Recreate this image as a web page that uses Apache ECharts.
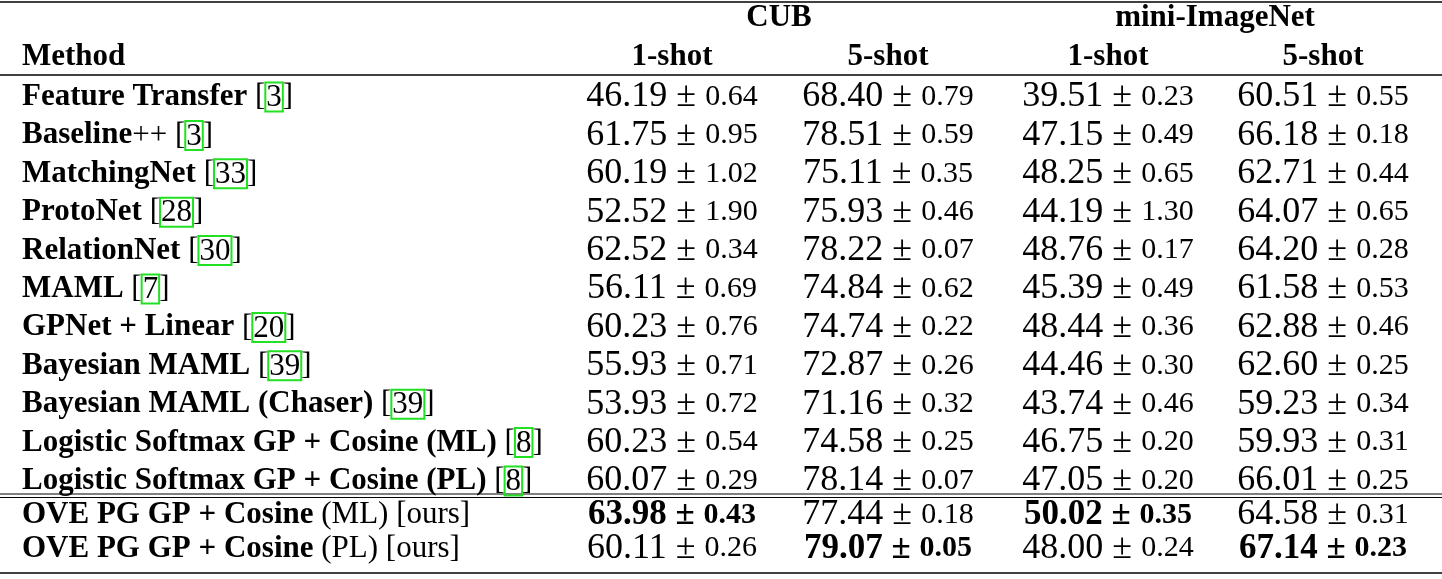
<!DOCTYPE html>
<html>
<head>
<meta charset="utf-8">
<script src="https://cdn.jsdelivr.net/npm/echarts@6/dist/echarts.min.js"></script>
<style>html,body{margin:0;padding:0;background:#fff}#chart{width:1442px;height:579px}</style>
</head>
<body>
<div id="chart"></div>
<script>
var groups = ['CUB', 'mini-ImageNet'];
var shots = ['1-shot', '5-shot', '1-shot', '5-shot'];
var methods = ['Feature Transfer', 'Baseline++', 'MatchingNet', 'ProtoNet', 'RelationNet', 'MAML',
  'GPNet + Linear', 'Bayesian MAML', 'Bayesian MAML (Chaser)', 'Logistic Softmax GP + Cosine (ML)',
  'Logistic Softmax GP + Cosine (PL)', 'OVE PG GP + Cosine', 'OVE PG GP + Cosine'];
var suffix = ['', '', '', '', '', '', '', '', '', '', '', ' (ML)', ' (PL)'];
var cites = ['3', '3', '33', '28', '30', '7', '20', '39', '39', '8', '8', 'ours', 'ours'];
var cub1 = [46.19, 61.75, 60.19, 52.52, 62.52, 56.11, 60.23, 55.93, 53.93, 60.23, 60.07, 63.98, 60.11];
var cub1sd = [0.64, 0.95, 1.02, 1.90, 0.34, 0.69, 0.76, 0.71, 0.72, 0.54, 0.29, 0.43, 0.26];
var cub5 = [68.40, 78.51, 75.11, 75.93, 78.22, 74.84, 74.74, 72.87, 71.16, 74.58, 78.14, 77.44, 79.07];
var cub5sd = [0.79, 0.59, 0.35, 0.46, 0.07, 0.62, 0.22, 0.26, 0.32, 0.25, 0.07, 0.18, 0.05];
var mini1 = [39.51, 47.15, 48.25, 44.19, 48.76, 45.39, 48.44, 44.46, 43.74, 46.75, 47.05, 50.02, 48.00];
var mini1sd = [0.23, 0.49, 0.65, 1.30, 0.17, 0.49, 0.36, 0.30, 0.46, 0.20, 0.20, 0.35, 0.24];
var mini5 = [60.51, 66.18, 62.71, 64.07, 64.20, 61.58, 62.88, 62.60, 59.23, 59.93, 66.01, 64.58, 67.14];
var mini5sd = [0.55, 0.18, 0.44, 0.65, 0.28, 0.53, 0.46, 0.25, 0.34, 0.31, 0.25, 0.31, 0.23];
var bestRow = [11, 12, 11, 12];

var cols = [[cub1, cub1sd], [cub5, cub5sd], [mini1, mini1sd], [mini5, mini5sd]];
var colX = [672, 888, 1108, 1323];
var groupX = [779, 1215];
var font = '"Liberation Serif", "DejaVu Serif", serif';

function rowY(i) { return i < 11 ? 97 + i * 38.4 : 515 + (i - 11) * 33.5; }

var els = [];
function line(y, w) {
  els.push({ type: 'line', shape: { x1: 0, y1: y, x2: 1442, y2: y }, style: { stroke: '#000', lineWidth: w } });
}
line(2, 1.5); line(75, 1.5); line(494, 1.2); line(497.5, 1.2); line(573, 1.5);

var rich = {
  b: { fontFamily: font, fontSize: 31, fontWeight: 'bold', fill: '#000' },
  r: { fontFamily: font, fontSize: 31, fill: '#000' },
  n: { fontFamily: font, fontSize: 36, fill: '#000' },
  nb: { fontFamily: font, fontSize: 35, fontWeight: 'bold', fill: '#000' },
  s: { fontFamily: font, fontSize: 30, fill: '#000' },
  bs: { fontFamily: font, fontSize: 30, fontWeight: 'bold', fill: '#000' },
  c: { fontFamily: font, fontSize: 31, fill: '#000', borderColor: '#22e022', borderWidth: 2, padding: [0, 1, -2, 1] }
};
function txt(x, y, t, align) {
  els.push({ type: 'text', x: x, y: y, style: { text: t, rich: rich, align: align, verticalAlign: 'middle' } });
}
groups.forEach(function (g, i) { txt(groupX[i], 18, '{b|' + g + '}', 'center'); });
txt(22, 57, '{b|Method}', 'left');
shots.forEach(function (s, i) { txt(colX[i], 57, '{b|' + s + '}', 'center'); });

methods.forEach(function (m, i) {
  var y = rowY(i);
  var name = m === 'Baseline++' ? '{b|Baseline}{r|++}' : '{b|' + m + '}';
  var cite = cites[i] === 'ours' ? '{r|[ours]}' : '{r|[}{c|' + cites[i] + '}{r|]}';
  txt(22, y, name + '{r|' + suffix[i] + ' }' + cite, 'left');
  cols.forEach(function (c, k) {
    var b = bestRow[k] === i;
    var t = b ? '{nb|' + c[0][i].toFixed(2) + ' ± }{bs|' + c[1][i].toFixed(2) + '}'
              : '{n|' + c[0][i].toFixed(2) + ' ± }{s|' + c[1][i].toFixed(2) + '}';
    txt(colX[k], y, t, 'center');
  });
});

var chart = echarts.init(document.getElementById('chart'));
chart.setOption({ animation: false, graphic: { elements: els } });
</script>
</body>
</html>
